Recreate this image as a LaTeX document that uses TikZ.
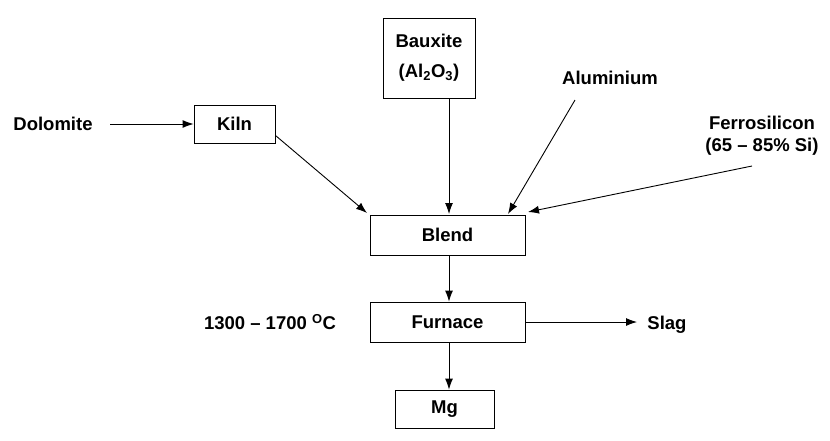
\documentclass[tikz,border=0pt]{standalone}
\usepackage{fontspec}
\setmainfont{Liberation Sans}
\usetikzlibrary{arrows.meta}
\begin{document}
\begin{tikzpicture}[x=1pt,y=-1pt,
  box/.style={draw,line width=0.9pt},
  lbl/.style={font=\bfseries\fontsize{18.5}{22}\selectfont},
  arr/.style={-{Latex[length=11pt,width=8pt]},line width=0.9pt}]
\useasboundingbox (0,0) rectangle (830,440);
\node[box,minimum width=92pt,minimum height=80pt,lbl,align=center] (bx) at (429,58) {Bauxite\\[8pt](Al\textsubscript{2}O\textsubscript{3})};
\node[box,minimum width=81pt,minimum height=38pt,lbl] (kiln) at (234.5,124) {Kiln};
\node[box,minimum width=155pt,minimum height=40pt,lbl] (blend) at (447.5,235) {Blend};
\node[box,minimum width=155pt,minimum height=40pt,lbl] (furn) at (447.5,322) {Furnace};
\node[box,minimum width=99pt,minimum height=38pt,lbl] (mg) at (444.5,409) {Mg};
\node[lbl] (dol) at (53,124) {Dolomite};
\node[lbl] (al) at (610,78) {Aluminium};
\node[lbl,align=center] (fe) at (762,136) {Ferrosilicon\\(65 -- 85\% Si)};
\node[lbl] (temp) at (270,322) {1300 -- 1700 \textsuperscript{O}C};
\node[lbl] (slag) at (667,325) {Slag};
\coordinate (d1) at (110,124);
\coordinate (a1) at (575,100);
\coordinate (f1) at (752,166);
\coordinate (s1) at (637,322);
\draw[arr] (d1) -- (kiln.west);
\draw[arr] (kiln.south east) ++(0,-8) -- (367,213);
\draw[arr] (bx.south -| 449,0) -- (449,214);
\draw[arr] (a1) -- (508,214);
\draw[arr] (f1) -- (528,212);
\draw[arr] (blend.south -| 449,0) -- (furn.north -| 449,0);
\draw[arr] (furn.east) -- (s1);
\draw[arr] (furn.south -| 449,0) -- (mg.north -| 449,0);
\end{tikzpicture}
\end{document}
